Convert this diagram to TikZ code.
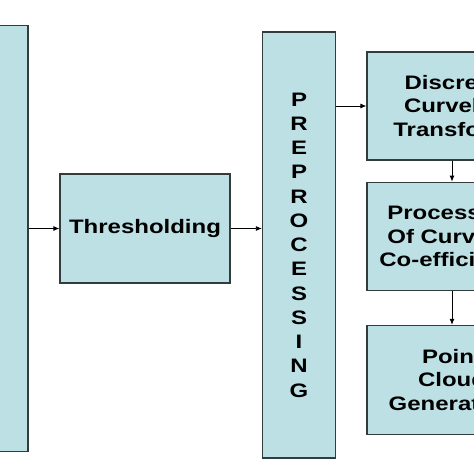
\documentclass[tikz,border=0pt]{standalone}
\usepackage{fontspec}
\newfontfamily\stagefont{Liberation Sans}[FakeStretch=1.23]
\usepackage{tikz}
\usetikzlibrary{positioning, arrows.meta}
\definecolor{boxfill}{RGB}{188,224,228}
\definecolor{boxline}{RGB}{50,60,60}

\begin{document}
\begin{tikzpicture}[x=1pt, y=-1pt,
    stage/.style={draw=boxline, fill=boxfill, line width=1.2pt, align=center,
        font=\stagefont\bfseries\fontsize{19.5}{23.4}\selectfont,
        minimum width=170pt, minimum height=108pt, inner sep=0pt},
    tall/.style={stage, minimum width=73pt, minimum height=426pt},
    flow/.style={-{Latex[length=6pt, width=5pt]}, line width=0.8pt}]
    % Frame of the picture
    \useasboundingbox (0,0) rectangle (474,474);
    \clip (0,0) rectangle (474,474);

    % Tall boxes
    \node[tall] (input) at (-8.5,238.5) {};
    \node[tall, font=\stagefont\bfseries\fontsize{19.5}{24.25}\selectfont] (pre) at (299,245)
        {P\\R\\E\\P\\R\\O\\C\\E\\S\\S\\I\\N\\G};

    % Stage boxes
    \node[stage, minimum height=109pt] (thr) at (145,228.5) {Thresholding};
    \node[stage] (dct) at (452,106) {Discrete\\Curvelet\\Transform};
    \node[stage, below=21pt of dct] (proc) {Processing\\Of Curvelet\\Co-efficients};
    \node[stage, minimum height=109pt, below=34pt of proc] (cloud) {Point\\Cloud\\Generation};

    % Arrows
    \draw[flow] (input.east |- thr.west) -- (thr.west);
    \draw[flow] (thr.east) -- (thr.east -| pre.west);
    \draw[flow] (dct.west -| pre.east) -- (dct.west);
    \draw[flow] (dct) -- (proc);
    \draw[flow] (proc) -- (cloud);
\end{tikzpicture}
\end{document}
